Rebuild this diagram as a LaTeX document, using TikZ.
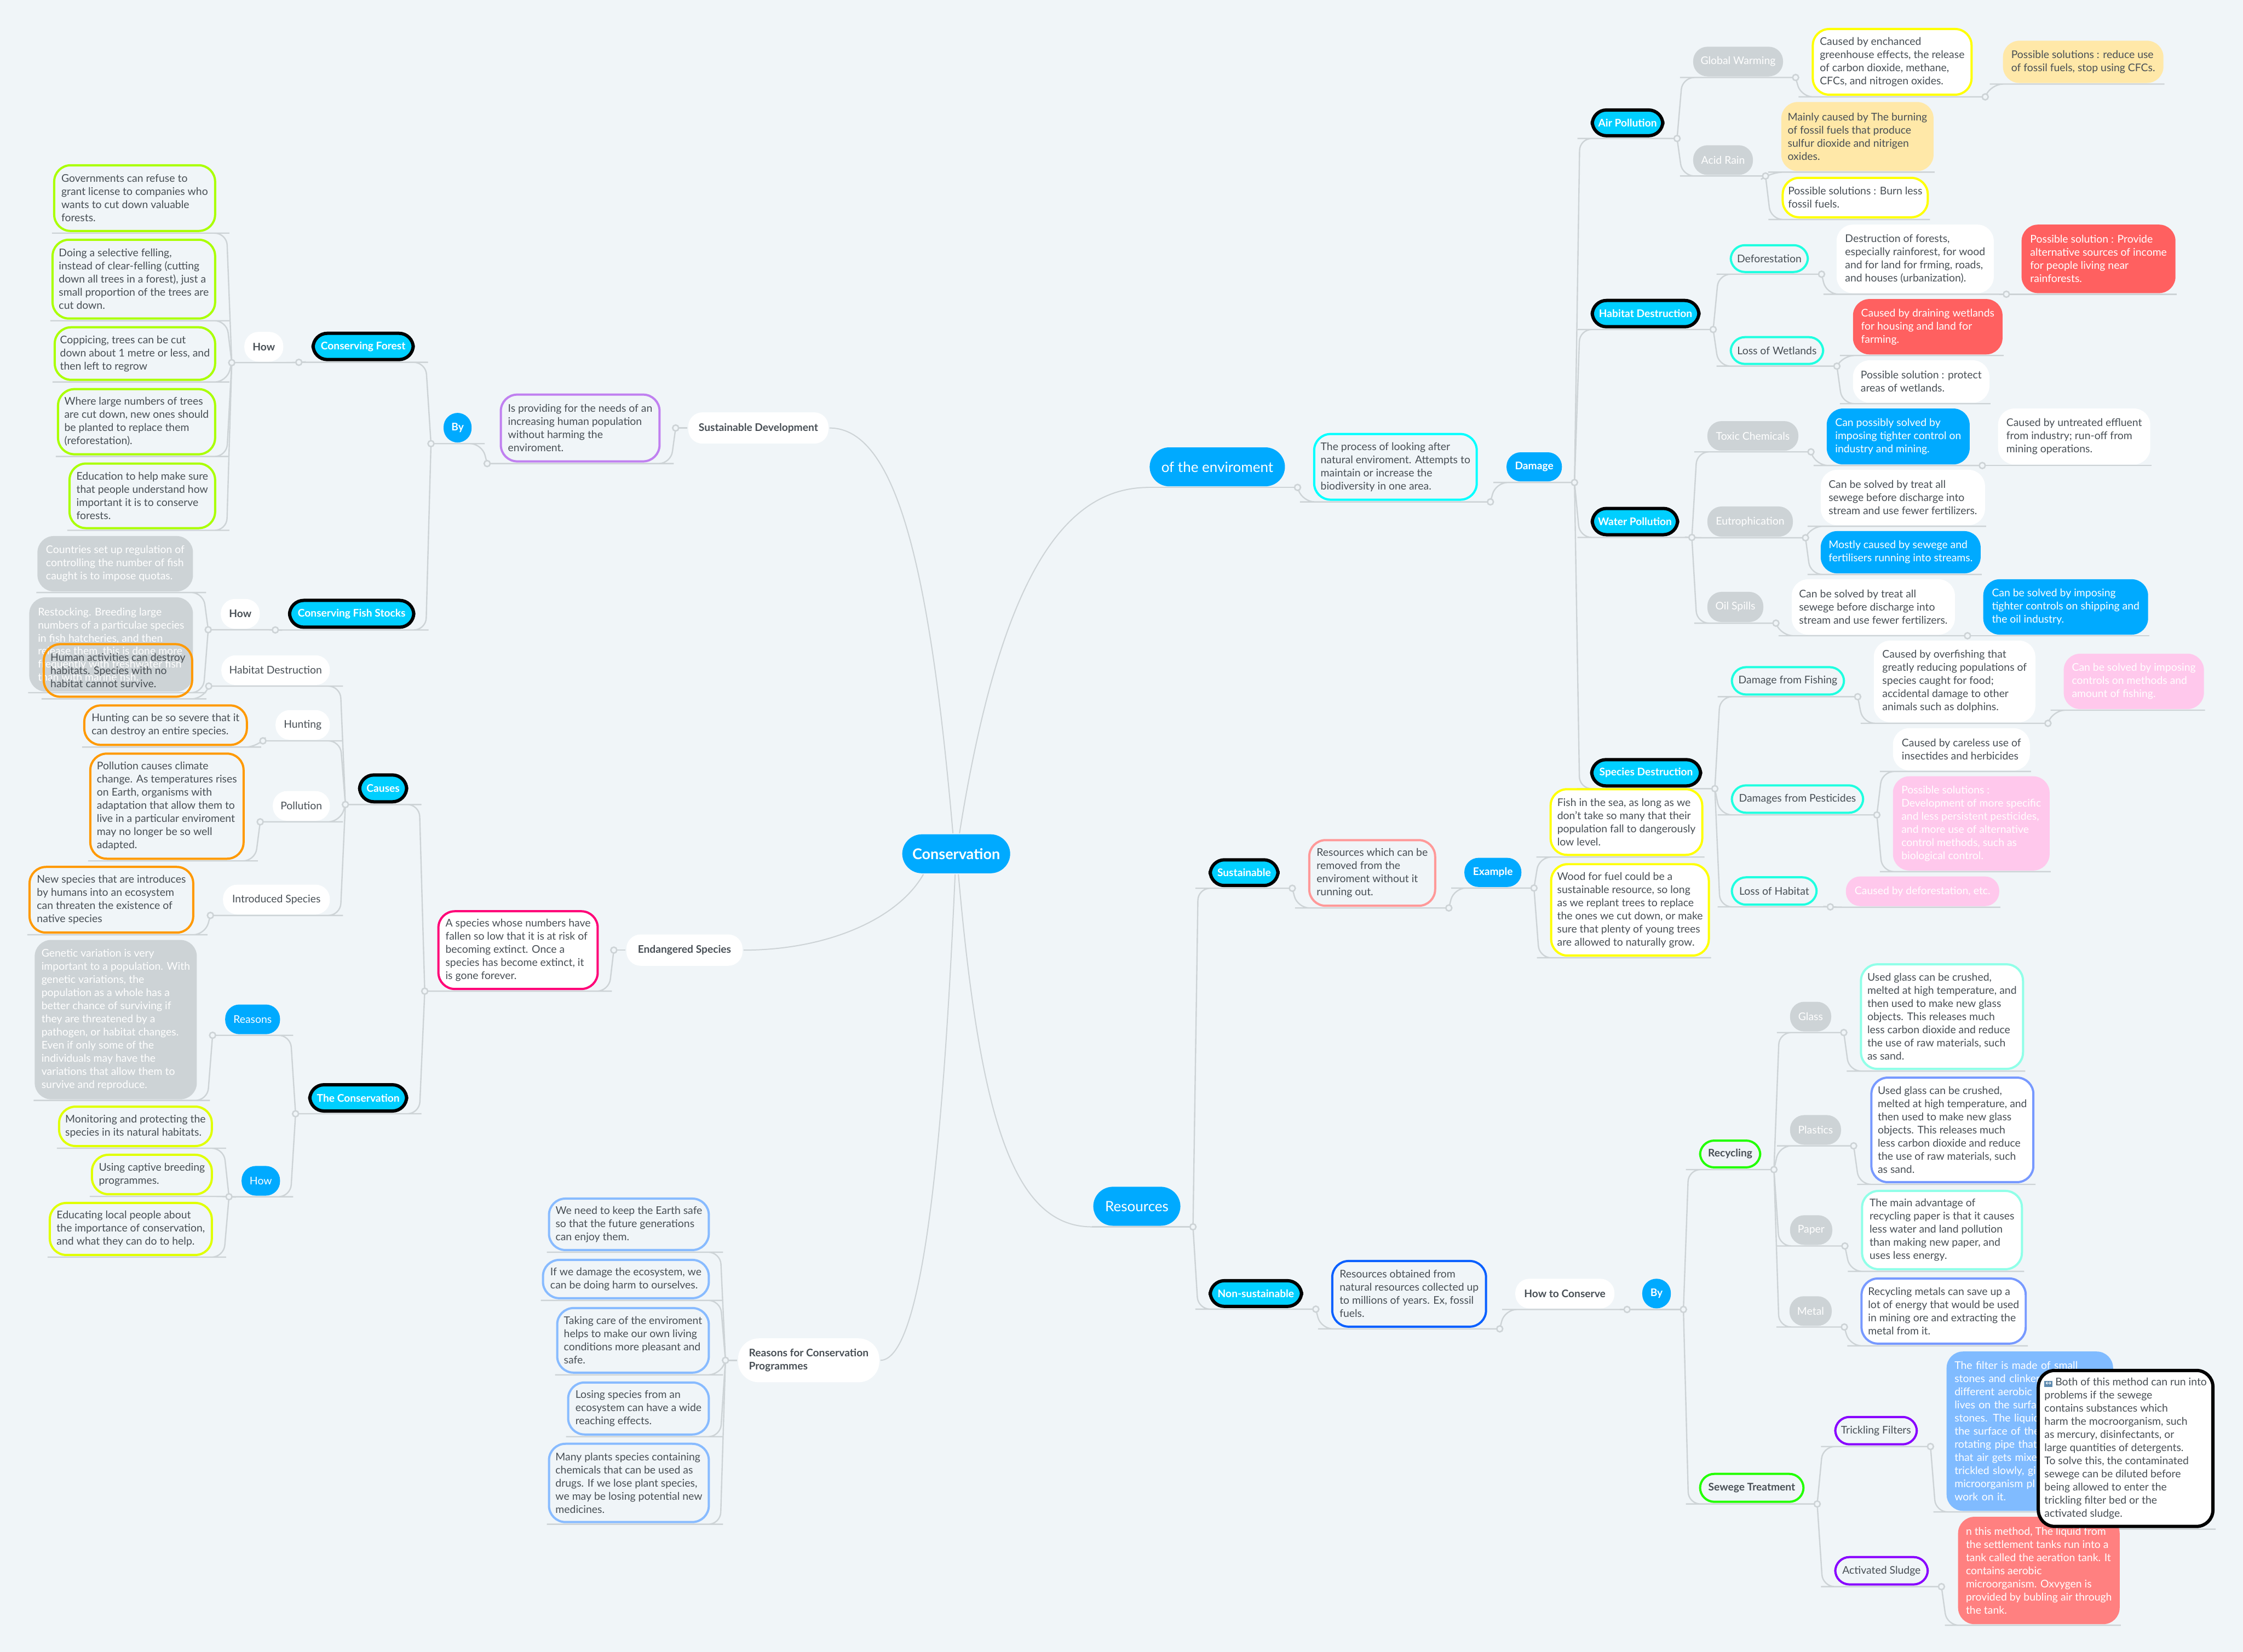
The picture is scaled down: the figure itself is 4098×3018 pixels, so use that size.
\documentclass[tikz,border=0pt]{standalone}
\usepackage{fontspec}
\usetikzlibrary{calc}
\setmainfont{Lato}
\newfontfamily\symbfont{DejaVu Sans}
\pgfdeclarelayer{links}
\pgfsetlayers{links,main}
\definecolor{mapbg}{HTML}{F0F5F8}
\definecolor{ink}{HTML}{484F55}
\definecolor{wire}{HTML}{CDD3D6}
\definecolor{topicblue}{HTML}{00AAFF}
\definecolor{keycyan}{HTML}{00CFFF}
\definecolor{paleorange}{HTML}{FFE8A8}
\definecolor{softred}{HTML}{FF6060}
\definecolor{softpink}{HTML}{FFC8EC}
\definecolor{skyfill}{HTML}{80BBFF}
\definecolor{rosefill}{HTML}{FF8080}
\definecolor{rimcyan}{HTML}{00FFFF}
\definecolor{rimteal}{HTML}{1FFFE0}
\definecolor{rimmint}{HTML}{90FFE8}
\definecolor{rimperi}{HTML}{7799FF}
\definecolor{rimgreen}{HTML}{22FF00}
\definecolor{rimpurple}{HTML}{8800FF}
\definecolor{rimlime}{HTML}{AAFF00}
\definecolor{rimyellow}{HTML}{FFFF00}
\definecolor{rimlemon}{HTML}{E0FF00}
\definecolor{rimorange}{HTML}{FF9900}
\definecolor{rimpink}{HTML}{FF0077}
\definecolor{rimrose}{HTML}{FF9999}
\definecolor{rimblue}{HTML}{0A60FF}
\definecolor{rimsky}{HTML}{88BBFF}
\definecolor{rimviolet}{HTML}{C080F0}
\definecolor{iconblue}{HTML}{5F8BB0}
\tikzset{
	spanbox/.style args={#1/#2/#3/#4}{at={({(#1+#3)/2},{(#2+#4)/2})},
		minimum width={(#3-#1)*.5pt-\pgflinewidth}, minimum height={(#4-#2)*.5pt-\pgflinewidth}},
	every node/.style={align=left, inner sep=0pt, outer sep=1pt, rounded corners=15pt, text=ink,
		font=\fontsize{9.7}{12}\selectfont},
	pill/.style={rounded corners=13pt},
	strong/.style={font=\fontsize{9.6}{12}\selectfont\bfseries},
	plainbox/.style={fill=white},
	greybox/.style={fill=wire, text=white},
	tinted/.style={fill=#1, text=white},
	rim/.style={draw=#1, line width=2pt, outer sep=2pt},
	rimw/.style={draw=#1, fill=white, line width=2pt, outer sep=2pt},
	topic/.style={fill=topicblue, text=white, pill},
	keynode/.style={draw=black, fill=keycyan, text=white, line width=3pt, outer sep=2.5pt, pill, strong},
	junction/.style={circle, draw=wire, fill=mapbg, line width=1.3pt, minimum size=5.5pt, outer sep=0pt},
	link/.style={draw=wire, line width=1.2pt, rounded corners=11pt},
	trunk/.style={draw=wire, line width=1pt},
	branch/.style={to path={let \p1=(\tikztostart), \p2=(\tikztotarget) in -- ({\x1+.35*(\x2-\x1)},\y2) -- (\p2)}},
}
\begin{document}
\begin{tikzpicture}[x=.5pt, y=-.5pt]
	\begin{pgfonlayer}{links}
		\path[use as bounding box, fill=mapbg] (0,0) rectangle (4098,3018);
	\end{pgfonlayer}

	% centre
	\node[spanbox=1648/1524/1846/1596, topic, rounded corners=18pt, font=\fontsize{13.5}{16}\selectfont\bfseries] (root) {Conservation};

	% right: of the enviroment
	\node[spanbox=2100/817/2348/889, topic, rounded corners=18pt, font=\fontsize{13}{16}\selectfont] (env) {of the enviroment};
	\node[rim=rimcyan, spanbox=2399/791/2700/915] (process) {The process of looking after\\natural enviroment. Attempts to\\maintain or increase the\\biodiversity in one area.};
	\node[spanbox=2752/826/2854/880, topic, strong] (damage) {Damage};

	\node[keynode, spanbox=2906/198/3041/251] (air) {Air Pollution};
	\node[spanbox=3093/85/3258/140, greybox, pill] (warming) {Global Warming};
	\node[rimw=rimyellow, spanbox=3310/51/3604/175] (warmcause) {Caused by enchanced\\greenhouse effects, the release\\of carbon dioxide, methane,\\CFCs, and nitrogen oxides.};
	\node[spanbox=3659/74/3953/152, fill=paleorange] (warmfix) {Possible solutions : reduce use\\of fossil fuels, stop using CFCs.};
	\node[spanbox=3093/265/3203/320, greybox, pill] (acid) {Acid Rain};
	\node[spanbox=3254/186/3533/313, fill=paleorange] (acidcause) {Mainly caused by The burning\\of fossil fuels that produce\\sulfur dioxide and nitrigen\\oxides.};
	\node[rimw=rimyellow, spanbox=3255/323/3524/399] (acidfix) {Possible solutions : Burn less\\fossil fuels.};

	\node[keynode, spanbox=2906/546/3107/600] (habitat) {Habitat Destruction};
	\node[rim=rimteal, spanbox=3160/446/3305/499, pill] (defor) {Deforestation};
	\node[spanbox=3355/410/3643/536, plainbox] (deforwhat) {Destruction of forests,\\especially rainforest, for wood\\and for land for frming, roads,\\and houses (urbanization).};
	\node[spanbox=3693/410/3975/536, tinted=softred] (deforfix) {Possible solution : Provide\\alternative sources of income\\for people living near\\rainforests.};
	\node[rim=rimteal, spanbox=3160/614/3333/667, pill] (wetland) {Loss of Wetlands};
	\node[spanbox=3385/546/3659/648, tinted=softred] (wetcause) {Caused by draining wetlands\\for housing and land for\\farming.};
	\node[spanbox=3385/658/3635/736, plainbox] (wetfix) {Possible solution : protect\\areas of wetlands.};

	\node[keynode, spanbox=2906/926/3068/980] (water) {Water Pollution};
	\node[spanbox=3119/769/3286/824, greybox, pill] (toxic) {Toxic Chemicals};
	\node[spanbox=3337/746/3599/849, tinted=topicblue] (toxicfix) {Can possibly solved by\\imposing tighter control on\\industry and mining.};
	\node[spanbox=3650/746/3929/849, plainbox] (toxiccause) {Caused by untreated effluent\\from industry; run-off from\\mining operations.};
	\node[spanbox=3119/925/3276/981, greybox, pill] (eutro) {Eutrophication};
	\node[spanbox=3326/858/3627/960, plainbox] (eutrofix) {Can be solved by treat all\\sewege before discharge into\\stream and use fewer fertilizers.};
	\node[spanbox=3326/970/3619/1048, tinted=topicblue] (eutrocause) {Mostly caused by sewege and\\fertilisers running into streams.};
	\node[spanbox=3119/1081/3222/1137, greybox, pill] (oil) {Oil Spills};
	\node[spanbox=3273/1058/3572/1160, plainbox] (oiltreat) {Can be solved by treat all\\sewege before discharge into\\stream and use fewer fertilizers.};
	\node[spanbox=3623/1058/3925/1160, tinted=topicblue] (oilfix) {Can be solved by imposing\\tighter controls on shipping and\\the oil industry.};

	\node[keynode, spanbox=2905/1385/3110/1439] (species) {Species Destruction};
	\node[rim=rimteal, spanbox=3162/1217/3371/1271, pill] (fishing) {Damage from Fishing};
	\node[spanbox=3423/1170/3719/1320, plainbox] (fishcause) {Caused by overfishing that\\greatly reducing populations of\\species caught for food;\\accidental damage to other\\animals such as dolphins.};
	\node[spanbox=3770/1194/4027/1296, tinted=softpink] (fishfix) {Can be solved by imposing\\controls on methods and\\amount of fishing.};
	\node[rim=rimteal, spanbox=3162/1433/3406/1487, pill] (pesticide) {Damages from Pesticides};
	\node[spanbox=3458/1330/3709/1408, plainbox] (pestcause) {Caused by careless use of\\insectides and herbicides};
	\node[spanbox=3458/1418/3745/1591, tinted=softpink] (pestfix) {Possible solutions :\\Development of more specific\\and less persistent pesticides,\\and more use of alternative\\control methods, such as\\biological control.};
	\node[rim=rimteal, spanbox=3162/1601/3321/1655, pill] (losshab) {Loss of Habitat};
	\node[spanbox=3372/1601/3653/1656, tinted=softpink, pill] (losscause) {Caused by deforestation, etc.};

	% right: Resources
	\node[spanbox=1997/2168/2157/2240, topic, rounded corners=18pt, font=\fontsize{13}{16}\selectfont] (res) {Resources};
	\node[keynode, spanbox=2208/1568/2338/1621] (sustain) {Sustainable};
	\node[rim=rimrose, spanbox=2390/1533/2624/1657] (renew) {Resources which can be\\removed from the\\enviroment without it\\running out.};
	\node[spanbox=2675/1567/2780/1621, topic, strong] (example) {Example};
	\node[rimw=rimyellow, spanbox=2831/1440/3112/1564] (fishsea) {Fish in the sea, as long as we\\don't take so many that their\\population fall to dangerously\\low level.};
	\node[rimw=rimyellow, spanbox=2832/1577/3124/1748] (wood) {Wood for fuel could be a\\sustainable resource, so long\\as we replant trees to replace\\the ones we cut down, or make\\sure that plenty of young trees\\are allowed to naturally grow.};

	\node[keynode, spanbox=2208/2337/2381/2390] (nonsust) {Non-sustainable};
	\node[rim=rimblue, spanbox=2432/2302/2717/2426] (fossil) {Resources obtained from\\natural resources collected up\\to millions of years. Ex, fossil\\fuels.};
	\node[spanbox=2768/2336/2950/2391, plainbox, pill, strong] (howcons) {How to Conserve};
	\node[spanbox=3000/2336/3053/2391, topic, strong] (byres) {By};

	\node[rim=rimgreen, spanbox=3104/2082/3218/2135, pill, strong] (recycle) {Recycling};
	\node[spanbox=3270/1830/3346/1885, greybox, pill] (glass) {Glass};
	\node[rimw=rimmint, spanbox=3398/1760/3698/1955] (glasstxt) {Used glass can be crushed,\\melted at high temperature, and\\then used to make new glass\\objects. This releases much\\less carbon dioxide and reduce\\the use of raw materials, such\\as sand.};
	\node[spanbox=3270/2037/3364/2092, greybox, pill] (plastic) {Plastics};
	\node[rimw=rimperi, spanbox=3417/1967/3717/2162] (plastictxt) {Used glass can be crushed,\\melted at high temperature, and\\then used to make new glass\\objects. This releases much\\less carbon dioxide and reduce\\the use of raw materials, such\\as sand.};
	\node[spanbox=3270/2220/3348/2275, greybox, pill] (paper) {Paper};
	\node[rimw=rimmint, spanbox=3400/2174/3696/2321] (papertxt) {The main advantage of\\recycling paper is that it causes\\less water and land pollution\\than making new paper, and\\uses less energy.};
	\node[spanbox=3269/2368/3347/2423, greybox, pill] (metal) {Metal};
	\node[rimw=rimperi, spanbox=3399/2334/3703/2457] (metaltxt) {Recycling metals can save up a\\lot of energy that would be used\\in mining ore and extracting the\\metal from it.};

	\node[rim=rimgreen, spanbox=3104/2691/3297/2746, pill, strong] (sewage) {Sewege Treatment};
	\node[rim=rimpurple, spanbox=3351/2587/3504/2641, pill] (trickle) {Trickling Filters};
	\node[spanbox=3556/2469/3861/2761, tinted=skyfill, text width=137.5pt] (filter) {The filter is made of small\\stones and clinker\\different aerobic\\lives on the surfa\\stones. The liquid\\the surface of the\\rotating pipe that\\that air gets mixe\\trickled slowly, gi\\microorganism pl\\work on it.};
	\node[rim=rimpurple, spanbox=3351/2843/3524/2897, pill] (sludge) {Activated Sludge};
	\node[spanbox=3577/2771/3873/2968, tinted=rosefill] (aeration) {n this method, The liquid from\\the settlement tanks run into a\\tank called the aeration tank. It\\contains aerobic\\microorganism. Oxvygen is\\provided by bubling air through\\the tank.};

	% left: Sustainable Development
	\node[spanbox=1257/753/1514/811, plainbox, pill, strong] (sdev) {Sustainable Development};
	\node[rim=rimviolet, spanbox=913/719/1207/845] (needs) {Is providing for the needs of an\\increasing human population\\without harming the\\enviroment.};
	\node[spanbox=810/754/862/809, topic, strong] (bysd) {By};
	\node[keynode, spanbox=569/606/758/660] (forest) {Conserving Forest};
	\node[spanbox=446/606/518/661, plainbox, pill, strong] (howforest) {How};
	\node[rim=rimlime, spanbox=97/300/395/424] (refuse) {Governments can refuse to\\grant license to companies who\\wants to cut down valuable\\forests.};
	\node[rim=rimlime, spanbox=94/436/395/584] (felling) {Doing a selective felling,\\instead of clear-felling (cutting\\down all trees in a forest), just a\\small proportion of the trees are\\cut down.};
	\node[rim=rimlime, spanbox=98/596/395/696] (coppice) {Coppicing, trees can be cut\\down about 1 metre or less, and\\then left to regrow};
	\node[rim=rimlime, spanbox=104/709/395/832] (replant) {Where large numbers of trees\\are cut down, new ones should\\be planted to replace them\\(reforestation).};
	\node[rim=rimlime, spanbox=125/845/395/967] (teach) {Education to help make sure\\that people understand how\\important it is to conserve\\forests.};
	\node[keynode, spanbox=526/1094/759/1149] (fishstock) {Conserving Fish Stocks};
	\node[spanbox=403/1094/475/1149, plainbox, pill, strong] (howfish) {How};
	\node[spanbox=68/979/353/1081, greybox] (quota) {Countries set up regulation of\\controlling the number of fish\\caught is to impose quotas.};
	\node[spanbox=53/1091/353/1264, greybox] (restock) {Restocking. Breeding large\\numbers of a particulae species\\in fish hatcheries, and then\\release them, this is done more\\frequently with freshwater fish\\than with marine fish.};

	% left: Endangered Species
	\node[spanbox=1144/1707/1357/1765, plainbox, pill, strong] (endanger) {Endangered Species};
	\node[rimw=rimpink, spanbox=799/1663/1094/1809] (extinct) {A species whose numbers have\\fallen so low that it is at risk of\\becoming extinct. Once a\\species has become extinct, it\\is gone forever.};
	\node[keynode, spanbox=654/1413/746/1468] (causes) {Causes};
	\node[spanbox=404/1197/603/1252, plainbox, pill] (habdest) {Habitat Destruction};
	\node[rim=rimorange, spanbox=78/1175/353/1275] (human) {Human activities can destroy\\habitats. Species with no\\habitat cannot survive.};
	\node[spanbox=503/1297/603/1352, plainbox, pill] (hunting) {Hunting};
	\node[rim=rimorange, spanbox=152/1287/453/1363] (hunttxt) {Hunting can be so severe that it\\can destroy an entire species.};
	\node[spanbox=498/1445/603/1500, plainbox, pill] (pollution) {Pollution};
	\node[rim=rimorange, spanbox=163/1375/447/1571] (polltxt) {Pollution causes climate\\change. As temperatures rises\\on Earth, organisms with\\adaptation that allow them to\\live in a particular enviroment\\may no longer be so well\\adapted.};
	\node[spanbox=407/1616/603/1671, plainbox, pill] (introduced) {Introduced Species};
	\node[rim=rimorange, spanbox=52/1582/355/1706] (introtxt) {New species that are introduces\\by humans into an ecosystem\\can threaten the existence of\\native species};
	\node[keynode, spanbox=563/1979/746/2033] (conserve) {The Conservation};
	\node[spanbox=411/1835/512/1890, topic] (reasons) {Reasons};
	\node[spanbox=63/1717/360/2009, greybox] (genetic) {Genetic variation is very\\important to a population. With\\genetic variations, the\\population as a whole has a\\better chance of surviving if\\they are threatened by a\\pathogen, or habitat changes.\\Even if only some of the\\individuals may have the\\variations that allow them to\\survive and reproduce.};
	\node[spanbox=441/2130/512/2185, topic] (howcare) {How};
	\node[rim=rimlemon, spanbox=106/2020/389/2096] (monitor) {Monitoring and protecting the\\species in its natural habitats.};
	\node[rim=rimlemon, spanbox=166/2108/389/2184] (captive) {Using captive breeding\\programmes.};
	\node[rim=rimlemon, spanbox=89/2196/389/2295] (locals) {Educating local people about\\the importance of conservation,\\and what they can do to help.};

	% left: Reasons for Conservation Programmes
	\node[spanbox=1348/2445/1607/2526, plainbox, rounded corners=19pt, strong] (progr) {Reasons for Conservation\\Programmes};
	\node[rim=rimsky, spanbox=1001/2188/1297/2286] (future) {We need to keep the Earth safe\\so that the future generations\\can enjoy them.};
	\node[rim=rimsky, spanbox=990/2300/1297/2374] (harm) {If we damage the ecosystem, we\\can be doing harm to ourselves.};
	\node[rim=rimsky, spanbox=1016/2388/1297/2510] (living) {Taking care of the enviroment\\helps to make our own living\\conditions more pleasant and\\safe.};
	\node[rim=rimsky, spanbox=1036/2524/1297/2623] (losing) {Losing species from an\\ecosystem can have a wide\\reaching effects.};
	\node[rim=rimsky, spanbox=1001/2636/1297/2783] (drugs) {Many plants species containing\\chemicals that can be used as\\drugs. If we lose plant species,\\we may be losing potential new\\medicines.};

	% junction points
	\foreach \n in {env,process,damage,air,warming,warmcause,acid,habitat,defor,deforwhat,wetland,water,toxic,toxicfix,eutro,oil,oiltreat,species,fishing,fishcause,pesticide,losshab,res,sustain,renew,example,nonsust,fossil,howcons,byres,recycle,glass,plastic,paper,metal,sewage,trickle,sludge,filter}
		\coordinate (j\n) at ([xshift=10.5pt]\n.south east);
	\foreach \n in {needs,bysd,forest,howforest,fishstock,howfish,extinct,causes,habdest,hunting,pollution,introduced,conserve,reasons,howcare}
		\coordinate (j\n) at ([xshift=-10.5pt]\n.south west);
	\foreach \n in {sdev,endanger,progr}
		\coordinate (j\n) at ([xshift=-10.5pt]\n.west);

	\foreach \n in {env,process,damage,air,warming,warmcause,acid,habitat,defor,deforwhat,wetland,water,toxic,toxicfix,eutro,oil,oiltreat,species,fishing,fishcause,pesticide,losshab,res,sustain,renew,example,nonsust,fossil,howcons,byres,recycle,glass,plastic,paper,metal,sewage,trickle,sludge,filter,needs,bysd,forest,howforest,fishstock,howfish,extinct,causes,habdest,hunting,pollution,introduced,conserve,reasons,howcare,sdev,endanger,progr}
		\node[junction] (dot\n) at (j\n) {};

	% drawn over the filter text
	\node[draw=black, fill=white, line width=3pt, outer sep=2.5pt, spanbox=3721/2501/4046/2792] (both) {{\setlength{\fboxsep}{1pt}\colorbox{iconblue}{\textcolor{white}{\symbfont\fontsize{6.5}{6.5}\selectfont ↔}}} Both of this method can run into\\problems if the sewege\\contains substances which\\harm the mocroorganism, such\\as mercury, disinfectants, or\\large quantities of detergents.\\To solve this, the contaminated\\sewege can be diluted before\\being allowed to enter the\\trickling filter bed or the\\activated sludge.};

	\begin{pgfonlayer}{links}
		% main branches
		\draw[trunk] ([xshift=3pt]root.north) .. controls (1830,1040) and (1950,891) .. (env.south west);
		\draw[link] (env.south west) -- (env.south east) -- (jenv);
		\draw[trunk] ([xshift=2pt]root.south) .. controls (1790,2040) and (1850,2242) .. (res.south west);
		\draw[link] (res.south west) -- (res.south east) -- (jres);
		\draw[trunk] ([xshift=-3pt]root.north) .. controls (1700,1050) and (1640,782) .. (sdev.east);
		\draw[trunk] ([xshift=-30pt]root.south) .. controls (1640,1680) and (1510,1736) .. (endanger.east);
		\draw[trunk] ([xshift=-1pt]root.south) .. controls (1725,2050) and (1690,2484) .. (progr.east);

		% right side
		\draw[link] (jenv) to[branch] (process.south west) -- (process.south east) -- (jprocess);
		\draw[link] (jprocess) to[branch] (damage.south west) -- (damage.south east) -- (jdamage);
		\foreach \a/\b in {damage/air,damage/habitat,damage/water,damage/species,air/warming,air/acid,habitat/defor,habitat/wetland,water/toxic,water/eutro,water/oil,species/fishing,species/pesticide,species/losshab,warming/warmcause,defor/deforwhat,toxic/toxicfix,oil/oiltreat,fishing/fishcause,res/sustain,res/nonsust,sustain/renew,renew/example,nonsust/fossil,fossil/howcons,howcons/byres,byres/recycle,byres/sewage,recycle/glass,recycle/plastic,recycle/paper,recycle/metal,sewage/trickle,sewage/sludge,trickle/filter}
			\draw[link] (j\a) to[branch] (\b.south west) -- (\b.south east) -- (j\b);
		\foreach \a/\b in {warmcause/warmfix,acid/acidcause,acid/acidfix,deforwhat/deforfix,wetland/wetcause,wetland/wetfix,toxicfix/toxiccause,eutro/eutrofix,eutro/eutrocause,oiltreat/oilfix,fishcause/fishfix,pesticide/pestcause,pesticide/pestfix,losshab/losscause,example/fishsea,example/wood,glass/glasstxt,plastic/plastictxt,paper/papertxt,metal/metaltxt,sludge/aeration,filter/both}
			\draw[link] (j\a) to[branch] (\b.south west) -- (\b.south east);

		% left side
		\draw[link] (sdev.west) -- (jsdev);
		\draw[link] (endanger.west) -- (jendanger);
		\draw[link] (progr.west) -- (jprogr);
		\foreach \a/\b in {sdev/needs,needs/bysd,bysd/forest,bysd/fishstock,forest/howforest,fishstock/howfish,endanger/extinct,extinct/causes,extinct/conserve,causes/habdest,causes/hunting,causes/pollution,causes/introduced,conserve/reasons,conserve/howcare}
			\draw[link] (j\a) to[branch] (\b.south east) -- (\b.south west) -- (j\b);
		\foreach \a/\b in {howforest/refuse,howforest/felling,howforest/coppice,howforest/replant,howforest/teach,howfish/quota,howfish/restock,habdest/human,hunting/hunttxt,pollution/polltxt,introduced/introtxt,reasons/genetic,howcare/monitor,howcare/captive,howcare/locals,progr/future,progr/harm,progr/living,progr/losing,progr/drugs}
			\draw[link] (j\a) to[branch] (\b.south east) -- (\b.south west);
	\end{pgfonlayer}
\end{tikzpicture}
\end{document}
